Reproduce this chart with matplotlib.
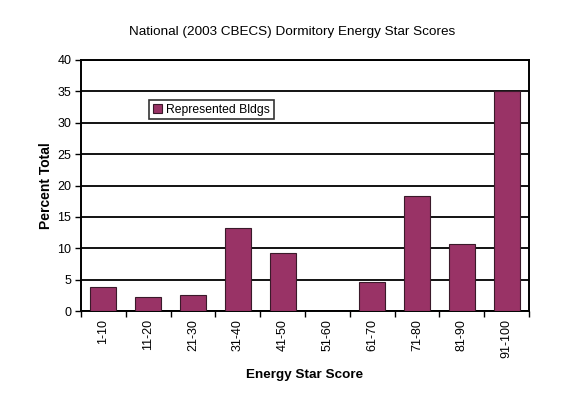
import numpy as np
import matplotlib.pyplot as plt

plt.rcParams['font.family'] = ['Liberation Sans', 'DejaVu Sans']

# data
categories = ['1-10', '11-20', '21-30', '31-40', '41-50',
              '51-60', '61-70', '71-80', '81-90', '91-100']
percent = [3.9, 2.3, 2.6, 13.3, 9.2, 0.0, 4.7, 18.4, 10.7, 35.0]

fig = plt.figure(figsize=(5.84, 4.01), dpi=100)
ax = fig.add_axes([0.1387, 0.2244, 0.7671, 0.626])

x = np.arange(len(categories))
ax.bar(x, percent, width=0.58, color='#993366', edgecolor='#3a1a2a',
       linewidth=0.8, label='Represented Bldgs', zorder=3)

ax.set_xlim(-0.5, len(categories) - 0.5)
ax.set_ylim(0, 40)
ax.set_yticks(range(0, 41, 5))
ax.yaxis.grid(True, color='black', linewidth=1.3, zorder=0)
ax.set_axisbelow(True)

# category labels centered, tick marks between categories
ax.set_xticks(x)
ax.set_xticklabels(categories, rotation=90, fontsize=9)
ax.set_xticks(np.arange(-0.5, len(categories), 1), minor=True)
ax.tick_params(axis='x', which='major', length=0, pad=6)
ax.tick_params(axis='x', which='minor', length=4, width=1, direction='out')
ax.tick_params(axis='y', length=4, width=1, labelsize=9, pad=3)

for s in ax.spines.values():
    s.set_linewidth(1.4)
    s.set_color('black')

fig.text(292 / 584, 1 - 32 / 401,
         'National (2003 CBECS) Dormitory Energy Star Scores',
         fontsize=9.7, ha='center', va='center')
ax.set_ylabel('Percent Total', fontsize=10, fontweight='bold', labelpad=3)
ax.set_xlabel('Energy Star Score', fontsize=9.7, fontweight='bold', labelpad=8)

leg = ax.legend(loc='upper left', bbox_to_anchor=(0.152, 0.84), fontsize=8.7,
                frameon=True, fancybox=False, borderpad=0.3,
                handlelength=0.8, handleheight=0.8, handletextpad=0.3,
                borderaxespad=0)
leg.get_frame().set_edgecolor('black')
leg.get_frame().set_linewidth(1.2)

fig.savefig('out.png', dpi=100)
